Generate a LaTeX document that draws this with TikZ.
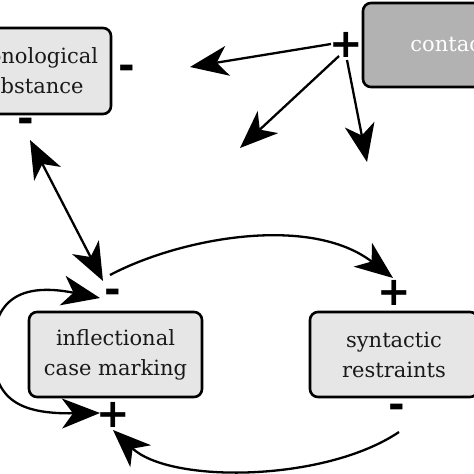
\documentclass[tikz,border=0pt]{standalone}
\usepackage{fontspec}
\setmainfont{DejaVu Serif}
\newfontfamily\signfont{DejaVu Sans}
\usetikzlibrary{arrows.meta}
\definecolor{lightbox}{HTML}{E6E6E6}
\definecolor{darkbox}{HTML}{B2B2B2}
\tikzset{
  box/.style={draw=black, line width=2.6pt, rounded corners=8pt, fill=lightbox,
    align=center, inner sep=0pt, text=black!90, font=\fontsize{21}{30}\selectfont},
  darkfill/.style={fill=darkbox, text=white},
  sign/.style={inner sep=0pt, font=\signfont\bfseries\fontsize{40}{40}\selectfont},
  tip/.style={Stealth[length=38pt,width=30pt,inset=11pt]},
  arr/.style={line width=2.3pt, -{Stealth[length=38pt,width=30pt,inset=11pt]}},
  darr/.style={line width=2.3pt, {Stealth[length=38pt,width=30pt,inset=11pt]}-{Stealth[length=38pt,width=30pt,inset=11pt]}},
}
\begin{document}
\begin{tikzpicture}[x=1pt,y=-1pt]
\useasboundingbox (0,0) rectangle (474,474);
\begin{scope}
\clip (0,0) rectangle (474,474);
% boxes
\node[box, minimum width=162pt, minimum height=86pt] (phon) at (30,71) {phonological\\substance};
\node[box, darkfill, minimum width=174pt, minimum height=84pt] (cont) at (450,45) {contact};
\node[box, minimum width=173pt, minimum height=85pt] (infl) at (115.5,354.5) {inflectional\\case marking};
\node[box, minimum width=168pt, minimum height=85pt] (synt) at (394,354.5) {syntactic\\restraints};
% signs
\node[sign] (mPr) at (127,72) {-};
\node[sign] (mPb) at (26,125) {-};
\node[sign] (pC) at (346,45) {+};
\node[sign] (mI) at (113,296) {-};
\node[sign] (pS) at (394,293) {+};
\node[sign] (mS) at (397,411) {-};
\node[sign] (pI) at (113,415) {+};
% connector end points
\coordinate (c1s) at (331,44);
\coordinate (c1e) at (190,67);
\coordinate (c2s) at (339,56);
\coordinate (c2e) at (240,148);
\coordinate (c3s) at (347,60);
\coordinate (c3e) at (367,162);
\coordinate (dA) at (30,140);
\coordinate (dB) at (103,281);
\coordinate (iS) at (110,275);
\coordinate (iE) at (393,278);
\coordinate (sS) at (399,432);
\coordinate (sE) at (113,430);
\coordinate (lA) at (100,298);
\coordinate (lB) at (100,413);
% connectors
\draw[arr] (c1s) -- (c1e);
\draw[arr] (c2s) -- (c2e);
\draw[arr] (c3s) -- (c3e);
\draw[darr] (dA) -- (dB);
\draw[arr] (iS) .. controls (180,238) and (310,214) .. (iE);
\draw[arr] (sS) .. controls (325,482) and (170,484) .. (sE);
\draw[darr] (lA) .. controls (20,282) and (-8,300) .. (-7,352) .. controls (-6,400) and (20,414) .. (lB);
\end{scope}
\end{tikzpicture}
\end{document}
